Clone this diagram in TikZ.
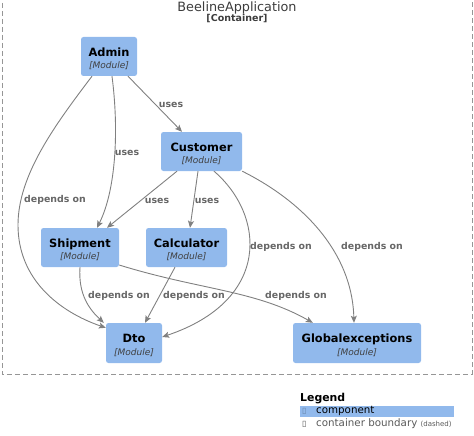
\documentclass[tikz,border=0pt]{standalone}
\usepackage{fontspec}
\setmainfont{DejaVu Sans}
\usetikzlibrary{arrows.meta}
\definecolor{compblue}{RGB}{145,185,236}
\definecolor{edgegray}{RGB}{128,128,128}
\definecolor{labgray}{RGB}{102,102,102}
\definecolor{boundgray}{RGB}{150,150,150}
\definecolor{titlegray}{RGB}{60,60,60}
\newcommand\modtag{{\fontsize{9}{10}\selectfont\mdseries\itshape\color{black!75}[Module]}}
\newcommand\topstrut{\rule{0pt}{13.6pt}}
\begin{document}
\begin{tikzpicture}[x=1pt,y=-1pt,
 comp/.style={fill=compblue, rounded corners=2.5pt, inner sep=0pt, align=center,
   minimum height=39pt, font=\fontsize{11.4}{12.5}\selectfont\bfseries},
 rel/.style={draw=edgegray, line width=0.9pt, -{Stealth[length=7pt,width=6pt,inset=1.5pt]}},
 rellab/.style={font=\fontsize{9.4}{10}\selectfont\bfseries, text=labgray, inner sep=0pt},
 legtext/.style={font=\fontsize{10.3}{12}\selectfont, inner sep=0pt, anchor=west},
]
\useasboundingbox (0,0) rectangle (474,436);
% boundary
\draw[boundgray, line width=1pt, dash pattern=on 5pt off 3pt] (2,-5) rectangle (472,374);
\node[font=\fontsize{12.8}{14}\selectfont, text=titlegray, inner sep=0pt] (title) at (237,7.5) {BeelineApplication};
\node[font=\fontsize{9.5}{11}\selectfont\bfseries, text=titlegray, inner sep=0pt] (ctype) at (237,18.5) {[Container]};

% components
\node[comp, minimum width=56pt] (admin) at (109,56.5) {\topstrut Admin\\\modtag};
\node[comp, minimum width=81pt] (customer) at (201.5,151.5) {\topstrut Customer\\\modtag};
\node[comp, minimum width=78pt] (shipment) at (80,247.5) {\topstrut Shipment\\\modtag};
\node[comp, minimum width=81pt] (calc) at (186.5,247.5) {\topstrut Calculator\\\modtag};
\node[comp, minimum width=56pt, minimum height=40pt] (dto) at (134,343) {\topstrut Dto\\\modtag};
\node[comp, minimum width=128pt, minimum height=40pt] (glob) at (357,343) {\topstrut Globalexceptions\\\modtag};

% relations
\draw[rel] ([xshift=19pt]admin.south) -- ([xshift=-19.5pt]customer.north);
\draw[rel] ([xshift=3pt]admin.south) .. controls (119,130) and (116,190) .. ([xshift=17pt]shipment.north);
\draw[rel] ([xshift=-17pt]admin.south) .. controls (55,125) and (18,175) .. (18,225)
   .. controls (18,280) and (60,312) .. ([yshift=-5pt]dto.north west);
\draw[rel] ([xshift=-24.5pt]customer.south) -- ([xshift=27pt]shipment.north);
\draw[rel] ([xshift=-3.5pt]customer.south) -- ([xshift=3.5pt]calc.north);
\draw[rel] ([xshift=12.5pt]customer.south) .. controls (265,215) and (272,300) .. ([yshift=6pt]dto.east);
\draw[rel] (customer.south east) .. controls (300,200) and (352,250) .. ([xshift=-3pt]glob.north);
\draw[rel] (shipment.south) .. controls (78,295) and (90,310) .. ([xshift=-2pt]dto.north west);
\draw[rel] ([xshift=-11.5pt]calc.south) -- ([xshift=11pt]dto.north);
\draw[rel] ([yshift=-17.5pt]shipment.east) .. controls (200,290) and (255,290) .. ([xshift=20pt]glob.north west);

% relation labels
\node[rellab] (l1) at (171,105) {uses};
\node[rellab] (l2) at (127,153) {uses};
\node[rellab] (l3) at (55,200) {depends on};
\node[rellab] (l4) at (157,201) {uses};
\node[rellab] (l5) at (207,201) {uses};
\node[rellab] (l6) at (281,247) {depends on};
\node[rellab] (l7) at (372,247) {depends on};
\node[rellab] (l8) at (119,296) {depends on};
\node[rellab] (l9) at (194,296) {depends on};
\node[rellab] (l10) at (296,296) {depends on};

% legend
\node[font=\fontsize{10.9}{12}\selectfont\bfseries, inner sep=0pt, anchor=west] (legend) at (300,399) {Legend};
\fill[compblue] (300,405.5) rectangle (454,417);
\node[legtext, text=compblue!70!black, font=\fontsize{8}{9}\selectfont] (lg1) at (302,411.5) {▯};
\node[legtext] (lg1t) at (316,411.3) {component};
\node[legtext, text=black!70, font=\fontsize{8}{9}\selectfont] (lg2) at (302,424) {▯};
\node[legtext, text=black!65] (lg2t) at (316,423.8) {container boundary {\fontsize{7}{8}\selectfont(dashed)}};
\end{tikzpicture}
\end{document}
